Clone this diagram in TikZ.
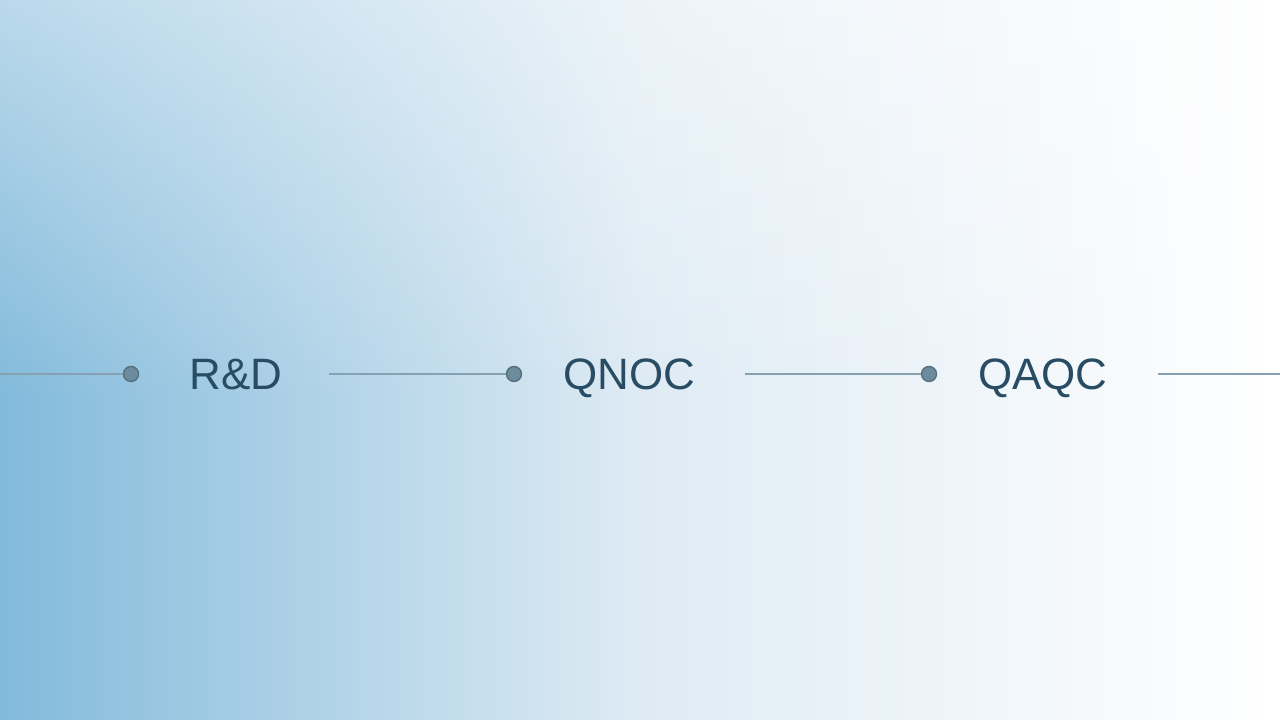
\documentclass[tikz,border=0pt]{standalone}
\usepackage{fontspec}
\setmainfont{Liberation Sans}
\usetikzlibrary{fadings}
\definecolor{fondbleu}{RGB}{130,186,219}
\definecolor{fondclair}{RGB}{222,235,244}
\definecolor{trait}{RGB}{134,162,178}
\definecolor{point}{RGB}{108,140,158}
\definecolor{texte}{RGB}{40,76,100}
\begin{document}
\begin{tikzpicture}
            \tikzstyle{etape}=[text=texte,font=\fontsize{12.5}{14}\selectfont,inner sep=0pt,anchor=base]
            \tikzstyle{pt}=[circle,fill=point,draw=point!80!black,line width=0.4pt,minimum size=0.15cm,inner sep=0pt]
            \tikzstyle{lien}=[trait,line width=0.8pt]
            \useasboundingbox (0,0) rectangle (12.8,7.2);
            \shade[left color=fondbleu,right color=white,middle color=fondclair] (0,0) rectangle (12.8,7.2);
            \fill[white,opacity=0.45,path fading=south] (0,3.2) rectangle (12.8,7.2);
            \coordinate (g) at (0,3.46);
            \coordinate (d) at (12.8,3.46);
            \node[pt] (p1) at (1.31,3.46) {};
            \node[etape] (rd) at (2.36,3.30) {R\&D};
            \node[pt] (p2) at (5.14,3.46) {};
            \node[etape] (qn) at (6.29,3.30) {QNOC};
            \node[pt] (p3) at (9.29,3.46) {};
            \node[etape] (qa) at (10.43,3.30) {QAQC};
            \draw[lien] (g) -- (p1);
            \draw[lien] ([xshift=0.46cm]rd.east |- p2) -- (p2);
            \draw[lien] ([xshift=0.49cm]qn.east |- p3) -- (p3);
            \draw[lien] ([xshift=0.50cm]qa.east |- d) -- (d);
        \end{tikzpicture}
\end{document}
